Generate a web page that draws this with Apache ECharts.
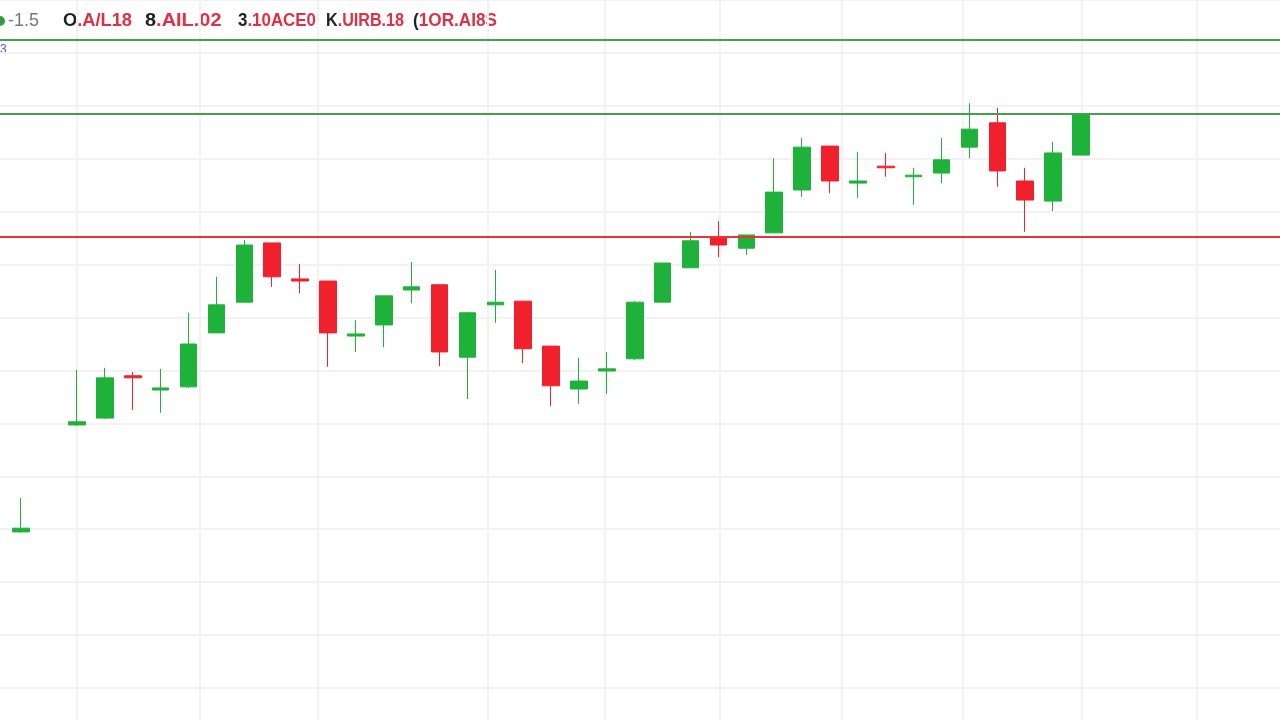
<!DOCTYPE html>
<html>
<head>
<meta charset="utf-8">
<script src="https://cdn.jsdelivr.net/npm/echarts@6/dist/echarts.min.js"></script>
<style>
html,body{margin:0;padding:0;background:#fff;}
#chart{width:1280px;height:720px;}
</style>
</head>
<body>
<div id="chart"></div>
<script>
// ---- data (price units, arbitrary scale) ----
const categories = ['01','02','03','04','05','06','07','08','09','10','11','12','13','14','15','16','17','18','19','20','21','22','23','24','25','26','27','28','29','30','31','32','33','34','35','36','37','38','39','40','41','42','43','44','45'];
const openVals  = [29.5, null, 49.7, 51.0, 59.0, 56.3, 56.9, 67.1, 72.9, 84.1, 77.3, 76.9, 66.5, 68.6, 75.2, 76.2, 62.5, 72.4, 73.1, 64.6, 56.5, 59.9, 62.2, 72.9, 79.4, 85.2, 83.1, 86.0, 94.1, 102.4, 95.4, 98.6, 96.6, 97.3, 102.2, 106.8, 95.8, 92.0, 100.7];
const closeVals = [30.2, null, 50.3, 58.6, 58.6, 56.7, 65.0, 72.4, 83.7, 77.7, 76.9, 67.1, 66.9, 74.1, 75.8, 63.5, 70.9, 72.9, 64.1, 57.1, 58.0, 60.3, 72.9, 80.3, 84.5, 83.7, 85.6, 93.7, 102.2, 95.8, 95.8, 98.3, 96.9, 99.8, 105.6, 97.7, 92.2, 101.1, 108.5];
const lowVals   = [29.3, null, 49.5, 50.8, 52.5, 52.0, 56.7, 67.1, 72.9, 75.8, 74.6, 60.7, 63.5, 64.4, 72.7, 60.8, 54.6, 69.0, 61.4, 53.3, 53.7, 55.6, 62.0, 72.9, 79.4, 81.4, 81.8, 86.0, 92.8, 93.5, 92.6, 96.6, 91.3, 95.4, 100.1, 94.7, 86.2, 90.1, 100.7];
const highVals  = [35.9, null, 60.1, 60.5, 59.7, 60.3, 70.9, 77.7, 84.7, 84.1, 80.1, 76.9, 69.5, 74.1, 80.5, 76.2, 71.0, 79.0, 73.1, 64.6, 62.4, 63.5, 73.1, 80.3, 86.2, 88.2, 85.6, 100.1, 103.9, 102.4, 101.3, 101.1, 98.3, 103.9, 110.5, 109.6, 98.3, 103.2, 108.5];
const levelVals   = [122.4, 108.5, 85.2];
const levelColors = ['#45a049', '#45a049', '#e8333a'];
// grid line positions: horizontal in price units, vertical in category-index units
const hGridVals = [0, 10, 20, 30, 40, 50, 60, 70, 80, 90, 100, 110, 120, 130];
const vGridIdx = [2.0, 6.41, 10.64, 16.74, 20.93, 25.06, 29.43, 33.77, 38.04, 42.16];
// header texts
const headerPrefix = '-1.5';
const headerGroups = [
  ['O', '.A/L18'],
  ['8', '.AIL.02'],
  ['3', '.10ACE0'],
  ['K', '.UIRB.18'],
  ['(', '1OR.AI8S']
];
const headerX = [63, 145, 238, 326, 413];
const headerW = [69, 83, 78, 78, 84];

const candleData = categories.map((c, i) =>
  (openVals[i] == null) ? '-' : [openVals[i], closeVals[i], lowVals[i], highVals[i]]);

const UP = '#1fb23b', DOWN = '#f0202c';
const GRID_LEFT = 7.25, BAND = 27.89;
const GRID_W = BAND * categories.length;
const PX_PER_UNIT = 688 / 130;

const font = '"Liberation Sans",Arial,sans-serif';
const hFont = 'bold 19px ' + font;
const mctx = document.createElement('canvas').getContext('2d');
mctx.font = hFont;

const graphic = [
  {type: 'circle', shape: {cx: 0, cy: 21, r: 5}, style: {fill: '#2e9e3e'}},
  {type: 'text', x: 8, y: 21, style: {text: headerPrefix, fill: '#777', font: '18px ' + font, verticalAlign: 'middle'}},
  {type: 'text', x: 0, y: 50, style: {text: '3', fill: '#3d5be0', font: '12px ' + font, verticalAlign: 'middle'}}
];
headerGroups.forEach((g, k) => {
  const w = mctx.measureText(g[0] + g[1]).width;
  const sx = Math.max(0.8, Math.min(1.05, headerW[k] / w));
  graphic.push({
    type: 'text', x: headerX[k], y: 21, scaleX: sx,
    style: {
      text: '{d|' + g[0] + '}{r|' + g[1] + '}',
      verticalAlign: 'middle',
      rich: {
        d: {fill: '#222', font: hFont},
        r: {fill: '#e03043', font: hFont}
      }
    }
  });
});

const chart = echarts.init(document.getElementById('chart'), null, {renderer: 'canvas'});
chart.setOption({
  animation: false,
  backgroundColor: '#ffffff',
  graphic: graphic,
  grid: [
    {left: GRID_LEFT, width: GRID_W, top: 0, height: 688, containLabel: false},
    {left: 0, width: 1280, top: 0, height: 720, containLabel: false}
  ],
  xAxis: [
    {type: 'category', gridIndex: 0, data: categories, boundaryGap: true,
     axisLine: {show: false}, axisTick: {show: false}, axisLabel: {show: false}, splitLine: {show: false}},
    {type: 'value', gridIndex: 1, min: -GRID_LEFT / BAND - 0.5, max: (1280 - GRID_LEFT) / BAND - 0.5,
     show: false, splitLine: {show: false}}
  ],
  yAxis: [
    {type: 'value', gridIndex: 0, min: 0, max: 130,
     axisLine: {show: false}, axisTick: {show: false}, axisLabel: {show: false}, splitLine: {show: false}},
    {type: 'value', gridIndex: 1, min: -32 / PX_PER_UNIT, max: 130, show: false, splitLine: {show: false}}
  ],
  series: [
    {
      type: 'line', xAxisIndex: 1, yAxisIndex: 1, data: [], silent: true, z: 1,
      markLine: {
        silent: true, symbol: 'none', animation: false, z: 1,
        label: {show: false},
        lineStyle: {color: '#f2f2f2', width: 2, type: 'solid'},
        data: vGridIdx.map(v => ({xAxis: v})).concat(hGridVals.map(v => ({yAxis: v})))
      }
    },
    {
      type: 'candlestick', xAxisIndex: 0, yAxisIndex: 0, data: candleData, z: 3,
      barWidth: 17,
      itemStyle: {color: UP, color0: DOWN, borderColor: UP, borderColor0: DOWN, borderWidth: 1}
    },
    {
      type: 'line', xAxisIndex: 1, yAxisIndex: 1, data: [], silent: true, z: 4,
      markLine: {
        silent: true, symbol: 'none', animation: false, z: 5,
        label: {show: false},
        data: levelVals.map((v, k) => ({yAxis: v, lineStyle: {color: levelColors[k], width: 2, type: 'solid'}}))
      }
    }
  ]
});
</script>
</body>
</html>
